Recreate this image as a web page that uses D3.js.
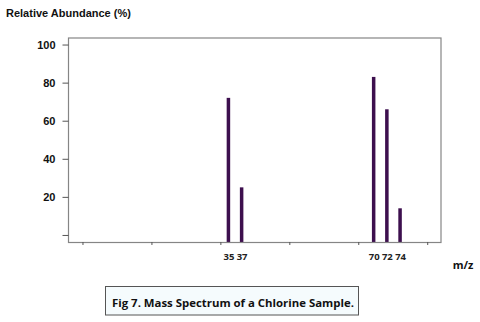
<!DOCTYPE html>
<html>
<head>
<meta charset="utf-8">
<script src="https://cdn.jsdelivr.net/npm/d3@7"></script>
<style>
  html, body { margin: 0; padding: 0; background: #fff; }
  svg { display: block; }
</style>
</head>
<body>
<svg id="chart" width="480" height="322"></svg>
<script>
// Peaks of the chlorine mass spectrum
const massToCharge = [35, 37, 70, 72, 74];
const abundance = [72, 25, 83, 66, 14];
const peakLabels = ["35", "37", "70", "72", "74"];

// Y axis ticks (0 carries no label)
const yTickValues = [0, 20, 40, 60, 80, 100];
const yTickLabels = ["", "20", "40", "60", "80", "100"];

// Unlabelled frame ticks along the bottom
const xFrameTicks = [0, 1, 2, 3, 4, 5];

const svg = d3.select("#chart");
const margin = { left: 68, top: 37.5, right: 39, bottom: 80 };
const W = 480 - margin.left - margin.right;
const H = 322 - margin.top - margin.bottom;

const g = svg.append("g").attr("transform", `translate(${margin.left},${margin.top})`);

// Broken m/z axis: the empty stretch between the atom and molecule peaks is collapsed
const xDomain = [10.7, 50, 63, 80.2];
const shown = (xDomain[1] - xDomain[0]) + (xDomain[3] - xDomain[2]);
const breakPx = W * (xDomain[1] - xDomain[0]) / shown;
const x = d3.scaleLinear().domain(xDomain).range([0, breakPx, breakPx, W]);

const y = d3.scaleLinear().domain([-3.7, 103.7]).range([H, 0]);
const xTick = d3.scaleLinear().domain([-0.21, 5.2]).range([0, W]);

const frameColor = "#858585";

// Bars
g.selectAll("rect.peak")
  .data(massToCharge)
  .join("rect")
  .attr("class", "peak")
  .attr("x", (d) => x(d) - 1.75)
  .attr("width", 3.5)
  .attr("y", (d, i) => y(abundance[i]))
  .attr("height", (d, i) => y(y.domain()[0]) - y(abundance[i]))
  .attr("fill", "#3d0f4e");

// Frame
g.append("rect")
  .attr("x", 0.5).attr("y", 0.5)
  .attr("width", W - 0.5).attr("height", H)
  .attr("fill", "none")
  .attr("stroke", frameColor)
  .attr("stroke-width", 1.2);

// Y axis
const yAxis = d3.axisLeft(y)
  .tickValues(yTickValues)
  .tickFormat((d, i) => yTickLabels[i])
  .tickSize(6)
  .tickPadding(7);
const ya = g.append("g").attr("transform", "translate(0.5,0)").call(yAxis);
ya.select(".domain").remove();
ya.selectAll("line").attr("stroke", "#555");
ya.selectAll("text")
  .attr("fill", "#111")
  .style("font", "bold 11px 'Liberation Sans', Arial, sans-serif");

// Bottom frame ticks
const xa = g.append("g").attr("transform", `translate(0,${H})`)
  .call(d3.axisBottom(xTick).tickValues(xFrameTicks).tickFormat("").tickSize(3));
xa.select(".domain").remove();
xa.selectAll("line").attr("stroke", "#555");

// Peak labels
g.append("g").attr("transform", `translate(0,${H})`)
  .call(d3.axisBottom(x).tickValues(massToCharge).tickFormat((d, i) => peakLabels[i]).tickSize(0).tickPadding(11))
  .call((s) => s.select(".domain").remove())
  .selectAll("text")
  .attr("fill", "#222")
  .style("font", "bold 9.5px 'Open Sans', Lato, sans-serif");

// Axis titles
svg.append("text")
  .attr("x", 6).attr("y", 17)
  .attr("fill", "#111")
  .style("font", "bold 11px 'Liberation Sans', Arial, sans-serif")
  .text("Relative Abundance (%)");

svg.append("text")
  .attr("x", 463).attr("y", 269)
  .attr("text-anchor", "middle")
  .attr("fill", "#111")
  .style("font", "bold 11px 'Open Sans', Lato, sans-serif")
  .text("m/z");

// Figure caption
svg.append("rect")
  .attr("x", 105.5).attr("y", 286.5)
  .attr("width", 253).attr("height", 28.5)
  .attr("fill", "#f5fbfd")
  .attr("stroke", "#555")
  .attr("stroke-width", 1);

svg.append("text")
  .attr("x", 112).attr("y", 306.5)
  .attr("fill", "#111")
  .style("font", "bold 11.4px 'Open Sans', Lato, sans-serif")
  .text("Fig 7. Mass Spectrum of a Chlorine Sample.");
</script>
</body>
</html>
